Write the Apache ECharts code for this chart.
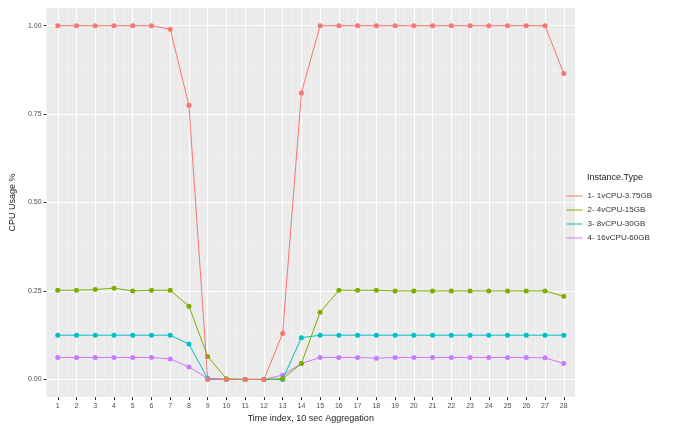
<!DOCTYPE html>
<html><head><meta charset="utf-8">
<script src="https://cdn.jsdelivr.net/npm/echarts@6/dist/echarts.min.js"></script>
<style>html,body{margin:0;padding:0;background:#fff}#main{width:677px;height:428px}</style>
</head><body><div id="main"></div>
<script>
var timeIndex = [1,2,3,4,5,6,7,8,9,10,11,12,13,14,15,16,17,18,19,20,21,22,23,24,25,26,27,28];
var seriesNames = ['1- 1vCPU-3.75GB', '2- 4vCPU-15GB', '3- 8vCPU-30GB', '4- 16vCPU-60GB'];
var colors = ['#F8766D', '#7CAE00', '#00BFC4', '#C77CFF'];
var cpu1 = [1,1,1,1,1,1,0.99,0.775,0.0,0.0,0,0,0.13,0.81,1,1,1,1,1,1,1,1,1,1,1,1,1,0.865];
var cpu4 = [0.252,0.252,0.254,0.258,0.25,0.252,0.252,0.207,0.065,0.002,0,0,0.002,0.045,0.19,0.252,0.252,0.252,0.25,0.25,0.25,0.25,0.25,0.25,0.25,0.25,0.25,0.235];
var cpu8 = [0.125,0.125,0.125,0.125,0.125,0.125,0.125,0.1,0.002,0,0,0,0,0.118,0.125,0.125,0.125,0.125,0.125,0.125,0.125,0.125,0.125,0.125,0.125,0.125,0.125,0.125];
var cpu16 = [0.062,0.062,0.062,0.062,0.062,0.062,0.058,0.035,0.003,0,0,0,0.012,0.045,0.062,0.062,0.062,0.06,0.062,0.062,0.062,0.062,0.062,0.062,0.062,0.062,0.061,0.045];
var yMajor = [0, 0.25, 0.5, 0.75, 1];
var yMinor = [0.125, 0.375, 0.625, 0.875];
var xMinor = timeIndex.slice(0, -1).map(function (v) { return v + 0.5; });

var allData = [cpu1, cpu4, cpu8, cpu16];
var myChart = echarts.init(document.getElementById('main'));
var font = 'Liberation Sans, Arial, sans-serif';
var legendIcon = 'path://M0,4.5L7,4.5L7,3A1.5,1.5 0 1 1 7,6L0,6ZM11,4.5A2,2 0 1 1 11,4.5001M9,4.5L18,4.5L18,6L9,6Z';
var series = allData.map(function (vals, i) {
    return {
        name: seriesNames[i], type: 'line', xAxisIndex: 0, yAxisIndex: 0,
        data: vals.map(function (v, j) { return [timeIndex[j], v]; }),
        symbol: 'circle', symbolSize: 5, showSymbol: true,
        lineStyle: {width: 1, color: colors[i]}, itemStyle: {color: colors[i]},
        z: 5 - i
    };
});
var option = {
    animation: false,
    textStyle: {fontFamily: font},
    grid: [{left: 38, right: 102, top: 8, bottom: 28, show: true, backgroundColor: '#EBEBEB', borderWidth: 0}],
    legend: {
        orient: 'vertical', right: 20, top: 187, itemWidth: 16, itemHeight: 6, itemGap: 6,
        icon: 'path://M0,2.5L16,2.5L16,3.5L0,3.5Z', data: seriesNames,
        textStyle: {fontSize: 8, color: '#333', fontFamily: font}
    },
    graphic: [{type: 'text', right: 34, top: 173, style: {text: 'Instance.Type', font: '9px ' + font, fill: '#222'}}],
    xAxis: [
        {type: 'value', min: 0.4, max: 28.6, name: 'Time index, 10 sec Aggregation', nameLocation: 'middle', nameGap: 16,
         nameTextStyle: {fontSize: 9, color: '#222'},
         axisLine: {show: false, onZero: false}, axisTick: {show: true, length: 3, lineStyle: {color: '#333'}, customValues: timeIndex},
         axisLabel: {fontSize: 7, color: '#4D4D4D', margin: 5, customValues: timeIndex},
         splitLine: {show: true, lineStyle: {color: '#fff', width: 1}}},
        {type: 'value', min: 0.4, max: 28.6, show: true, axisLine: {show: false, onZero: false}, axisTick: {show: false, customValues: xMinor},
         axisLabel: {show: false, customValues: xMinor}, splitLine: {show: true, lineStyle: {color: '#F5F5F5', width: 0.5}}}
    ],
    yAxis: [
        {type: 'value', min: -0.05, max: 1.05, name: 'CPU Usage %', nameLocation: 'middle', nameGap: 26,
         nameTextStyle: {fontSize: 9, color: '#222'},
         axisLine: {show: false, onZero: false}, axisTick: {show: true, length: 3, lineStyle: {color: '#333'}, customValues: yMajor},
         axisLabel: {fontSize: 7, color: '#4D4D4D', margin: 5, customValues: yMajor, formatter: function (v) { return v.toFixed(2); }},
         splitLine: {show: true, lineStyle: {color: '#fff', width: 1}}},
        {type: 'value', min: -0.05, max: 1.05, axisLine: {show: false, onZero: false}, axisTick: {show: false, customValues: yMinor},
         axisLabel: {show: false, customValues: yMinor}, splitLine: {show: true, lineStyle: {color: '#F5F5F5', width: 0.5}}}
    ],
    series: series
};
myChart.setOption(option);
</script></body></html>
